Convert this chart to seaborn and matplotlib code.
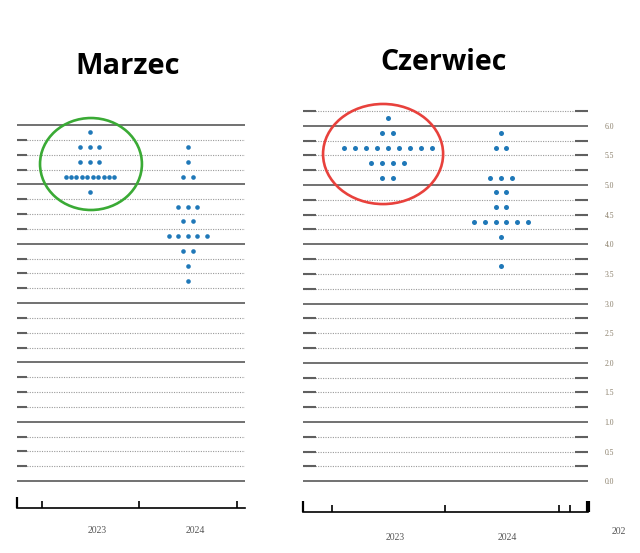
import numpy as np
import pandas as pd
import matplotlib
matplotlib.use("Agg")
import matplotlib.pyplot as plt
from matplotlib.patches import Ellipse
import seaborn as sns

# ---------------- data ----------------
panel_titles = ["Marzec", "Czerwiec"]
year_labels_march = ["2023", "2024"]
year_labels_june = ["2023", "2024"]
cut_label = "202"

march_2023_rates = [5.875, 5.625, 5.375, 5.125, 4.875]
march_2023_counts = [1, 3, 3, 10, 1]
march_2024_rates = [5.625, 5.375, 5.125, 4.625, 4.375, 4.125, 3.875, 3.625, 3.375]
march_2024_counts = [1, 1, 2, 3, 2, 5, 2, 1, 1]

june_2023_rates = [6.125, 5.875, 5.625, 5.375, 5.125]
june_2023_counts = [1, 2, 9, 4, 2]
june_2024_rates = [5.875, 5.625, 5.125, 4.875, 4.625, 4.375, 4.125, 3.625]
june_2024_counts = [1, 2, 3, 2, 2, 6, 1, 1]

right_axis_labels = [f"{v:.1f}" for v in np.arange(0, 6.01, 0.5)]

DOT = "#1f78b8"

sns.set_theme(style="white")
plt.rcParams["font.family"] = ["DejaVu Sans"]


def build(rates_by_year, counts_by_year, max_span):
    rows = []
    for yi, (rates, counts) in enumerate(zip(rates_by_year, counts_by_year)):
        for r, n in zip(rates, counts):
            sp = 0.097 if n <= 1 else min(0.097, max_span / (n - 1))
            for i in range(n):
                rows.append({"x": yi + (i - (n - 1) / 2) * sp, "rate": r})
    return pd.DataFrame(rows)


fig = plt.figure(figsize=(6.4, 5.53), dpi=100)
fig.patch.set_facecolor("white")

axL = fig.add_axes([17 / 640, 45 / 553, 228 / 640, (508 - 119.1) / 553])
axR = fig.add_axes([303 / 640, 41 / 553, 285 / 640, (512 - 105.1) / 553])


def style_panel(ax, xlim, ylim, top, dash_w, both_ends, ticks, tall, lab_pos, labels, pad, px_unit):
    ax.set_facecolor("white")
    for y in np.arange(0, top + 0.001, 0.25):
        if abs(y - round(y)) < 1e-9:
            ax.axhline(y, color="#4a4a4a", lw=1.1, zorder=1)
        else:
            ax.axhline(y, color="#9a9a9a", lw=0.8, ls=(0, (1, 1.2)), zorder=1)
            ax.hlines(y, xlim[0], xlim[0] + dash_w, color="#606060", lw=1.5, zorder=2)
            if both_ends:
                ax.hlines(y, xlim[1] - dash_w, xlim[1], color="#606060", lw=1.5, zorder=2)
    for s in ["top", "left", "right"]:
        ax.spines[s].set_visible(False)
    ax.spines["bottom"].set_color("black")
    ax.spines["bottom"].set_linewidth(1.2)
    ax.set_xticks(ticks)
    ax.set_xticklabels([])
    ax.tick_params(axis="x", which="major", direction="in", length=5, width=1.2,
                   color="black", bottom=True)
    ax.set_xticks(lab_pos, minor=True)
    ax.set_xticklabels(labels, minor=True, fontsize=7, family="Liberation Serif", color="#555555")
    ax.tick_params(axis="x", which="minor", length=0, pad=pad)
    for xt, lw in tall:
        ax.vlines(xt, ylim[0], ylim[0] + 11 / px_unit, color="black", lw=lw, clip_on=False, zorder=3)
    ax.set_xlabel("")
    ax.set_ylabel("")
    ax.set_xlim(*xlim)
    ax.set_ylim(*ylim)


# left panel (March)
dfL = build([march_2023_rates, march_2024_rates], [march_2023_counts, march_2024_counts], 0.5)
sns.scatterplot(data=dfL, x="x", y="rate", ax=axL, color=DOT, s=11, linewidth=0, zorder=5, legend=False)
axL.add_patch(Ellipse((0.01, 5.343), 1.04, 1.55, fill=False, edgecolor="#3aaa35", lw=1.9,
                      zorder=4, clip_on=False))
style_panel(axL, (-0.745, 1.582), (-0.455, 6.1), 6.0, 0.10, False,
            [-0.49, 0.5, 1.5], [(-0.745, 1.6)], [0.07, 1.07], year_labels_march, 13, 59.33)
axL.set_yticks([])

# right panel (June)
dfR = build([june_2023_rates, june_2024_rates], [june_2023_counts, june_2024_counts], 0.9)
sns.scatterplot(data=dfR, x="x", y="rate", ax=axR, color=DOT, s=13, linewidth=0, zorder=5, legend=False)
axR.add_patch(Ellipse((-0.041, 5.524), 1.06, 1.69, fill=False, edgecolor="#e8413c", lw=1.9,
                      zorder=4, clip_on=False))
style_panel(axR, (-0.748, 1.768), (-0.52, 6.35), 6.25, 0.115, True,
            [-0.494, 0.506, 1.512, 1.609], [(-0.748, 1.6), (1.768, 3.0)], [0.064, 1.06],
            year_labels_june, 15, 59.2)
axR.set_yticks(np.arange(0, 6.01, 0.5))
axR.set_yticklabels(right_axis_labels, fontsize=5.5, family="Liberation Serif", color="#8a7f6a")
axR.tick_params(axis="y", left=False, labelleft=False, right=True, labelright=True, length=0, pad=12)
fig.text(612 / 640, 1 - 532 / 553, cut_label, ha="left", va="center", fontsize=7,
         family="Liberation Serif", color="#555555")

fig.text(128 / 640, 1 - 66 / 553, panel_titles[0], ha="center", va="center",
         fontsize=21, fontweight="bold", family="Open Sans", color="black")
fig.text(444 / 640, 1 - 63 / 553, panel_titles[1], ha="center", va="center",
         fontsize=20.5, fontweight="bold", family="Open Sans", color="black")

fig.savefig("out.png", dpi=100, facecolor="white")
